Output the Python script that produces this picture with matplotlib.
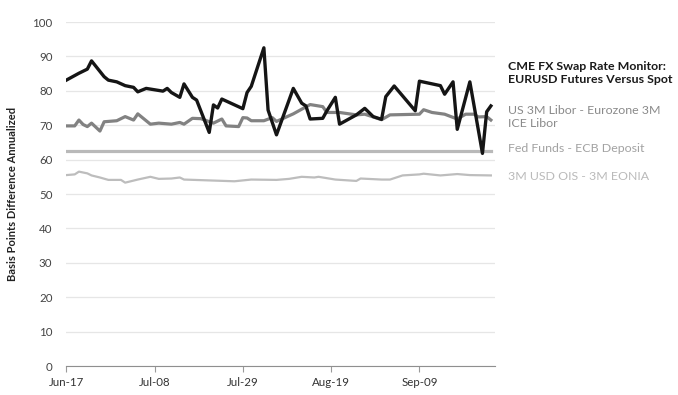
import matplotlib
matplotlib.use("Agg")
import matplotlib.pyplot as plt
import numpy as np
import pandas as pd

plt.rcParams['font.family'] = ['Lato', 'DejaVu Sans']

# days counted from 17 Jun 2019
start = pd.Timestamp('2019-06-17')
end_day = 102

cme_days = [0, 3, 5, 6, 9, 10, 12, 14, 16, 17, 19, 23, 24, 25, 27, 28, 30, 31, 34, 35,
            36, 37, 42, 43, 44, 47, 48, 50, 54, 56, 57, 58, 61, 62, 64, 65, 69, 71, 73, 75,
            76, 78, 83, 84, 89, 90, 92, 93, 96, 99, 100, 101]
cme_vals = [83.1, 85.1, 86.3, 88.7, 84.1, 83.1, 82.6, 81.5, 81.0, 79.7, 80.7, 79.9, 80.7, 79.5,
            78.1, 82.0, 78.1, 77.3, 67.9, 75.9, 75.0, 77.6, 74.8, 79.5, 81.3, 92.5, 74.4, 67.2,
            80.7, 76.4, 75.6, 71.8, 72.0, 74.2, 78.1, 70.3, 73.0, 74.9, 72.5, 71.7, 78.3, 81.4,
            74.2, 82.8, 81.5, 79.0, 82.6, 68.8, 82.6, 61.8, 73.9, 75.6]

libor_days = [0, 2, 3, 4, 5, 6, 8, 9, 12, 14, 16, 17, 20, 22, 25, 27, 28, 30, 32, 35,
              37, 38, 41, 42, 43, 44, 47, 49, 50, 54, 58, 61, 62, 65, 69, 71, 75, 77, 84, 85,
              87, 90, 93, 95, 97, 98, 100, 101]
libor_vals = [69.8, 69.8, 71.5, 70.2, 69.6, 70.6, 68.3, 71.0, 71.3, 72.5, 71.5, 73.3, 70.3, 70.6,
              70.3, 70.8, 70.3, 72.0, 71.9, 70.6, 71.8, 69.8, 69.6, 72.2, 72.1, 71.3, 71.3, 72.2,
              71.1, 73.3, 76.0, 75.4, 73.7, 73.7, 73.0, 73.2, 71.6, 73.0, 73.2, 74.5, 73.7, 73.2,
              71.8, 73.2, 73.2, 72.4, 72.5, 71.5]

fed_days = [0, 101]
fed_vals = [62.5, 62.5]

ois_days = [0, 2, 3, 5, 6, 8, 10, 13, 14, 17, 20, 22, 25, 27, 28, 40, 44, 50, 53, 56,
            59, 60, 64, 69, 70, 75, 77, 80, 84, 85, 89, 93, 96, 101]
ois_vals = [55.5, 55.7, 56.5, 56.0, 55.4, 54.8, 54.1, 54.1, 53.3, 54.2, 55.0, 54.4, 54.5, 54.8,
            54.2, 53.7, 54.2, 54.1, 54.4, 55.0, 54.8, 55.0, 54.2, 53.8, 54.5, 54.2, 54.2, 55.4,
            55.7, 55.9, 55.4, 55.8, 55.5, 55.4]

tick_dates = ['2019-06-17', '2019-07-08', '2019-07-29', '2019-08-19', '2019-09-09']
tick_labels = ['Jun-17', 'Jul-08', 'Jul-29', 'Aug-19', 'Sep-09']


def to_dates(days):
    return start + pd.to_timedelta(days, unit='D')


fig = plt.figure(figsize=(6.78, 3.95), dpi=100)
ax = fig.add_axes([0.0978, 0.0734, 0.6324, 0.8709])

ax.plot(to_dates(ois_days), ois_vals, color='#bdbdbd', lw=1.6, zorder=3)
ax.plot(to_dates(fed_days), fed_vals, color='#b9b9b9', lw=2.3, zorder=3)
ax.plot(to_dates(libor_days), libor_vals, color='#828282', lw=2.3, zorder=4)
ax.plot(to_dates(cme_days), cme_vals, color='#151515', lw=2.4, zorder=5)

ax.set_ylim(0, 100)
ax.set_xlim(start, start + pd.Timedelta(days=end_day))
ax.set_yticks(np.arange(0, 101, 10))
ax.grid(axis='y', color='#e6e6e6', lw=0.9)
ax.set_axisbelow(True)

ax.set_xticks(pd.to_datetime(tick_dates))
ax.set_xticklabels(tick_labels)

for s in ['top', 'right', 'left']:
    ax.spines[s].set_visible(False)
ax.spines['bottom'].set_color('#8f8f8f')
ax.tick_params(axis='y', length=0, pad=10, labelsize=8.3, labelcolor='#444444')
ax.tick_params(axis='x', length=4, color='#9a9a9a', pad=4, labelsize=8.3, labelcolor='#333333')

ax.set_ylabel('Basis Points Difference Annualized', fontsize=8, fontweight='bold',
              color='#222222', labelpad=10)

# legend as text block to the right
fig.text(0.749, 0.815, 'CME FX Swap Rate Monitor:\nEURUSD Futures Versus Spot',
         fontsize=8.9, fontweight='bold', color='#1a1a1a', va='center', linespacing=1.25)
fig.text(0.749, 0.704, 'US 3M Libor - Eurozone 3M\nICE Libor',
         fontsize=8.9, color='#8a8a8a', va='center', linespacing=1.25)
fig.text(0.749, 0.625, 'Fed Funds - ECB Deposit',
         fontsize=8.9, color='#a2a2a2', va='center')
fig.text(0.749, 0.552, '3M USD OIS - 3M EONIA',
         fontsize=8.9, color='#bababa', va='center')

fig.savefig('out.png', dpi=100)
